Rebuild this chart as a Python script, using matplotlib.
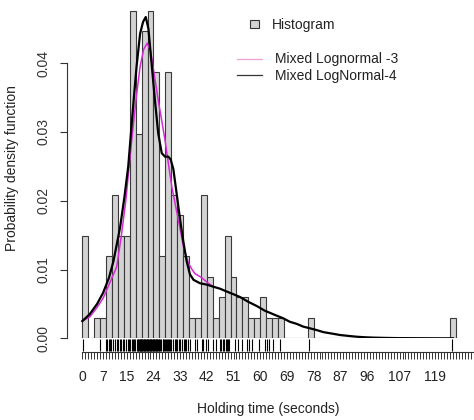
import numpy as np
import matplotlib.pyplot as plt
from matplotlib.lines import Line2D
from matplotlib.patches import Rectangle

plt.rcParams['font.family'] = ['Liberation Sans', 'DejaVu Sans']

# histogram: counts per 2-second bin, starting at 0
bin_width = 2
bin_counts = [5, 0, 1, 1, 4, 7, 5, 5, 16, 10,
              15, 16, 13, 4, 13, 7, 6, 4, 1, 1,
              7, 3, 1, 2, 5, 3, 2, 2, 1, 1,
              2, 1, 1, 1, 0, 0, 0, 0, 1, 0,
              0, 0, 0, 0, 0, 0, 0, 0, 0, 0,
              0, 0, 0, 0, 0, 0, 0, 0, 0, 0,
              0, 0, 1]

# fitted curves
lognorm4_x = [0, 2.5, 5, 7, 9, 10.5, 12.7, 14.2, 15.5, 16.4, 17.4, 18.3, 19.5, 20.5,
              21.4, 22.3, 23.4, 24.5, 25.6, 26.8, 27.9, 29.0, 29.8, 30.7, 31.8, 32.9,
              34.1, 35.2, 36.3, 37.5, 39.7, 42, 44.2, 46.5, 48.7, 51, 53.2, 56, 58.8,
              61.6, 63.3, 65.5, 67.8, 70, 72.3, 74.5, 76.8, 79, 81.3, 84, 86.9, 89.7,
              92.5, 95.3, 98.1, 102, 106, 110, 115, 120, 125]
lognorm4_y = [0.0025, 0.0035, 0.0050, 0.0066, 0.0088, 0.0112, 0.0160, 0.0205, 0.0250,
              0.0298, 0.0350, 0.0395, 0.0443, 0.0460, 0.0467, 0.0450, 0.0398, 0.0346,
              0.0298, 0.0269, 0.0264, 0.0264, 0.0260, 0.0246, 0.0211, 0.0175, 0.0140,
              0.0112, 0.0093, 0.0085, 0.0080, 0.0078, 0.0075, 0.0072, 0.0068, 0.0064,
              0.0060, 0.0053, 0.0047, 0.0040, 0.0037, 0.0033, 0.0029, 0.0024, 0.0021,
              0.0017, 0.00145, 0.0012, 0.0009, 0.0007, 0.00048, 0.00035, 0.00023,
              0.00015, 0.0001, 0.00006, 0.00003, 0.00002, 0.00001, 0.0, 0.0]

lognorm3_x = [0, 2.5, 5, 7, 9, 11.6, 13.2, 14.7, 15.8, 16.9, 18.2, 19.5, 20.7, 21.9,
              23.0, 24.2, 25.6, 26.8, 27.9, 29.0, 30.2, 31.3, 32.4, 33.3, 34.1, 35.0,
              35.8, 37, 38, 40.3, 42.5, 44.2]
lognorm3_y = [0.0025, 0.0031, 0.0045, 0.0058, 0.0078, 0.0104, 0.0150, 0.0201, 0.0250,
              0.0298, 0.0350, 0.0395, 0.0420, 0.0429, 0.0418, 0.0385, 0.0346, 0.0316,
              0.0288, 0.0255, 0.0220, 0.0196, 0.0172, 0.0152, 0.0133, 0.0120, 0.0109,
              0.0100, 0.0094, 0.0088, 0.0080, 0.0075]

# observed values shown as rug
rug_values = [0.1, 6.0, 8.0, 8.4, 8.9, 9.3, 9.8, 10.4, 10.9, 11.6, 12.1, 12.6, 13.2,
              13.6, 14.1, 14.7, 15.4, 15.7, 16.0, 16.6, 17.2, 17.5, 17.8, 18.4, 18.7,
              18.9, 19.1, 19.3, 19.5, 19.7, 19.9, 20.1, 20.3, 20.5, 20.7, 20.9, 21.1,
              21.3, 21.5, 21.7, 21.9, 22.1, 22.3, 22.5, 22.7, 22.9, 23.1, 23.3, 23.5,
              23.7, 23.9, 24.1, 24.3, 24.5, 24.7, 24.9, 25.1, 25.3, 25.5, 25.7, 25.9,
              26.1, 26.6, 27.1, 27.3, 27.5, 27.9, 28.2, 28.6, 28.8, 29.1, 29.5, 30.0,
              30.6, 31.1, 31.6, 32.0, 32.5, 33.1, 33.6, 34.2, 34.6, 35.1, 35.7, 36.4,
              38.0, 38.6, 40.4, 40.8, 41.7, 42.4, 44.1, 45.1, 46.3, 46.7, 47.4, 47.8,
              48.3, 48.7, 49.1, 49.6, 51.5, 52.5, 53.8, 55.4, 56.2, 57.1, 59.6, 61.5,
              62.2, 63.1, 64.2, 66.7, 76.5, 124.7]

xtick_label_values = [0, 7, 15, 24, 33, 42, 51, 60, 69, 78, 87, 96, 107, 119]
ytick_values = [0.00, 0.01, 0.02, 0.03, 0.04]

density = np.array(bin_counts) / (sum(bin_counts) * bin_width)
bin_left = np.arange(len(bin_counts)) * bin_width

W, H = 474, 420
fig = plt.figure(figsize=(W / 100, H / 100), dpi=100)

# pixel layout: x=0 at 82.3px, 2.965 px per second; y=0 at 338.3px, 6880 px per unit
x0_px, x_scale = 82.3, 2.965
y0_px, y_scale = 338.3, 6880.0
ax_left, ax_right = 67, 474
ax = fig.add_axes([ax_left / W, (H - y0_px) / H, (ax_right - ax_left) / W, y0_px / H])
ax.set_xlim((ax_left - x0_px) / x_scale, (ax_right - x0_px) / x_scale)
ax.set_ylim(0, y0_px / y_scale)

ax.bar(bin_left, density, width=bin_width, align='edge', color='#D3D3D3',
       edgecolor='#3a3a3a', linewidth=0.8, zorder=2)
ax.plot(lognorm3_x, lognorm3_y, color='#D62AD6', lw=1.1, zorder=3)
ax.plot(lognorm4_x, lognorm4_y, color='black', lw=1.6, zorder=4)

for s in ['top', 'right', 'bottom']:
    ax.spines[s].set_visible(False)
ax.spines['left'].set_bounds(0, 0.04)
ax.spines['left'].set_color('#333333')
ax.set_yticks(ytick_values)
ax.set_yticklabels(['%.2f' % v for v in ytick_values], rotation=90, va='center',
                   fontsize=10, color='#333333')
ax.tick_params(axis='y', length=5, width=0.8, color='#333333', pad=7)
ax.set_xticks([])

# rug below the histogram
ax.vlines(rug_values, -0.0001, -0.00185, color='black', lw=0.8, clip_on=False)

# x axis drawn below the rug
y_axis_line = -(352 - y0_px) / y_scale
y_tick_end = -(359 - y0_px) / y_scale
y_label = -(377 - y0_px) / y_scale
ax.plot([0, 132], [y_axis_line, y_axis_line], color='#333333', lw=0.8, clip_on=False)
ax.vlines(np.arange(0, 133), y_tick_end, y_axis_line, color='#333333', lw=0.7,
          clip_on=False)
for v in xtick_label_values:
    ax.text(v, y_label, str(v), ha='center', va='center', fontsize=10, color='#222222')

fig.text(12 / W, 1 - 168 / H, 'Probability density function', rotation=90,
         ha='center', va='center', fontsize=10, color='#222222')
fig.text(268 / W, 1 - 409 / H, 'Holding time (seconds)', ha='center', va='center',
         fontsize=10, color='#222222')

# legend
fig.patches.append(Rectangle(((250) / W, 1 - 28 / H), 9 / W, 8 / H,
                             transform=fig.transFigure, facecolor='#D3D3D3',
                             edgecolor='#333333', lw=0.8))
fig.text(272 / W, 1 - 24.5 / H, 'Histogram', ha='left', va='center', fontsize=10,
         color='#222222')
fig.lines.append(Line2D([237 / W, 262 / W], [1 - 58.5 / H, 1 - 58.5 / H],
                        transform=fig.transFigure, color='#F0A0D0', lw=0.9))
fig.lines.append(Line2D([237 / W, 262 / W], [1 - 74.7 / H, 1 - 74.7 / H],
                        transform=fig.transFigure, color='#333333', lw=0.9))
fig.text(275 / W, 1 - 59.5 / H, 'Mixed Lognormal -3', ha='left', va='center',
         fontsize=10, color='#222222')
fig.text(275 / W, 1 - 76 / H, 'Mixed LogNormal-4', ha='left', va='center',
         fontsize=10, color='#222222')

fig.savefig('out.png', dpi=100)
